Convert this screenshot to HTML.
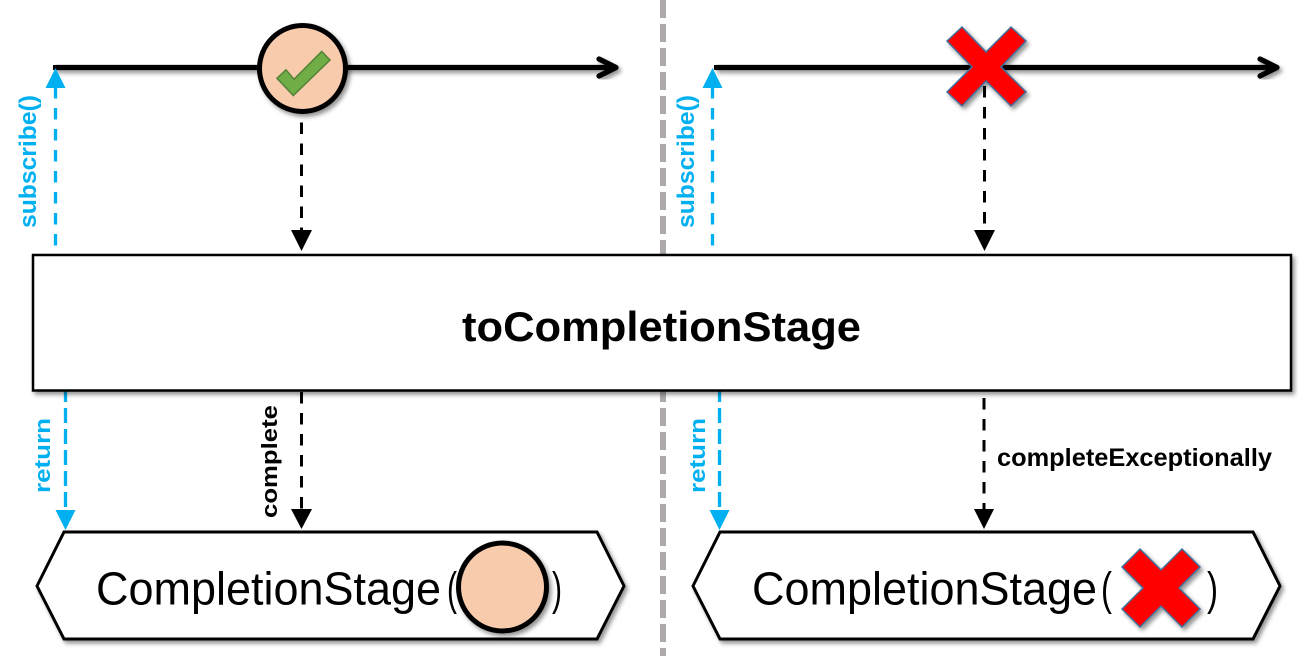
<!DOCTYPE html>
<html><head><meta charset="utf-8"><style>
html,body{margin:0;padding:0;background:#fff;width:1315px;height:659px;overflow:hidden}
svg{display:block}
text{font-family:"Liberation Sans",sans-serif}
</style></head><body>
<svg width="1315" height="659" viewBox="0 0 1315 659" xmlns="http://www.w3.org/2000/svg">
<defs><filter id="s" x="-20%" y="-20%" width="140%" height="140%"><feDropShadow dx="2.5" dy="3" stdDeviation="2.2" flood-color="#000" flood-opacity=".42"/></filter></defs>
<line x1="663" y1="0" x2="663" y2="656" stroke="#aeaaaa" stroke-width="6" stroke-dasharray="18 6"/>
<g filter="url(#s)" fill="none" stroke="#000" stroke-width="5.2" stroke-linecap="round" stroke-linejoin="round"><path d="M55.5 67.5H614M599 59L616 67.5L599 76"/></g>
<g filter="url(#s)" fill="none" stroke="#000" stroke-width="5.2" stroke-linecap="round" stroke-linejoin="round"><path d="M716.5 67.5H1275M1260 59L1277 67.5L1260 76"/></g>
<rect x="53" y="65" width="4" height="5" fill="#000"/><rect x="714" y="65" width="4" height="5" fill="#000"/>
<circle cx="302.5" cy="68.5" r="43" fill="#f7cbac" stroke="#000" stroke-width="5" filter="url(#s)"/>
<polygon points="330,60 321.7,51.5 294,79.3 286,69.8 277,78.3 293.3,95.5" fill="#70ad47" stroke="#548235" stroke-width="1.5"/>
<polygon points="962,27 986,52 1011,27 1026,41 1001,67 1026,92 1011,106 986,81 962,106 947,92 972,67 947,41" fill="#ff0000" stroke="#41719c" stroke-width="1.5" filter="url(#s)"/>
<g stroke="#00b0f0" stroke-width="3.3" stroke-dasharray="11.5 9.5" fill="none">
<line x1="55.5" y1="245.5" x2="55.5" y2="86"/><line x1="712.5" y1="245.5" x2="712.5" y2="86"/>
</g>
<g stroke="#00b0f0" stroke-width="3.3" stroke-dasharray="15 6" fill="none">
<line x1="65.5" y1="387" x2="65.5" y2="512"/><line x1="719.5" y1="387" x2="719.5" y2="512"/>
</g>
<g fill="#00b0f0">
<polygon points="55.5,68 65.5,88 45.5,88"/><polygon points="712.5,68 722.5,88 702.5,88"/>
<polygon points="65.5,530 55.5,510 75.5,510"/><polygon points="719.5,530 709.5,510 729.5,510"/>
</g>
<g stroke="#000" stroke-width="3" stroke-dasharray="11.5 9.5" fill="none">
<line x1="301.5" y1="122.5" x2="301.5" y2="232"/><line x1="984.5" y1="86" x2="984.5" y2="232"/>
<line x1="301.5" y1="392" x2="301.5" y2="510"/><line x1="984" y1="398" x2="984" y2="510"/>
</g>
<g fill="#000">
<polygon points="301.5,251 291,230 312,230"/><polygon points="984.5,251 974,230 995,230"/>
<polygon points="301.5,529 291,509 312,509"/><polygon points="984,529 974,509 994,509"/>
</g>
<rect x="33" y="255" width="1258" height="135.5" fill="#fff" stroke="#000" stroke-width="2.5" filter="url(#s)"/>
<text x="462" y="341" font-size="42" font-weight="700" textLength="399" lengthAdjust="spacingAndGlyphs">toCompletionStage</text>
<polygon points="37,586 64,532 597,532 624,586 597,639 64,639" fill="#fff" stroke="#000" stroke-width="3" filter="url(#s)"/>
<polygon points="693,586 720,532 1253,532 1280,586 1253,639 720,639" fill="#fff" stroke="#000" stroke-width="3" filter="url(#s)"/>
<text x="96" y="604.5" font-size="46" textLength="345" lengthAdjust="spacingAndGlyphs">CompletionStage</text>
<text x="447" y="604.5" font-size="46" textLength="10" lengthAdjust="spacingAndGlyphs">(</text>
<text x="552" y="604.5" font-size="46" textLength="10" lengthAdjust="spacingAndGlyphs">)</text>
<circle cx="502.5" cy="587" r="44" fill="#f7cbac" stroke="#000" stroke-width="5" filter="url(#s)"/>
<text x="752" y="604.5" font-size="46" textLength="345" lengthAdjust="spacingAndGlyphs">CompletionStage</text>
<text x="1101" y="604.5" font-size="46" textLength="11" lengthAdjust="spacingAndGlyphs">(</text>
<text x="1207" y="604.5" font-size="46" textLength="11" lengthAdjust="spacingAndGlyphs">)</text>
<polygon points="1140,549 1161,570 1182,549 1200,567 1179,588 1200,609 1182,627 1161,606 1140,627 1122,609 1143,588 1122,567" fill="#ff0000" stroke="#41719c" stroke-width="1.5" filter="url(#s)"/>
<text transform="translate(36 228) rotate(-90)" font-size="24" font-weight="700" fill="#00b0f0" textLength="133" lengthAdjust="spacingAndGlyphs">subscribe()</text>
<text transform="translate(694 228) rotate(-90)" font-size="24" font-weight="700" fill="#00b0f0" textLength="133" lengthAdjust="spacingAndGlyphs">subscribe()</text>
<text transform="translate(50 493) rotate(-90)" font-size="22" font-weight="700" fill="#00b0f0" textLength="75" lengthAdjust="spacingAndGlyphs">return</text>
<text transform="translate(705 493) rotate(-90)" font-size="22" font-weight="700" fill="#00b0f0" textLength="75" lengthAdjust="spacingAndGlyphs">return</text>
<text transform="translate(277 518) rotate(-90)" font-size="22" font-weight="700" textLength="113" lengthAdjust="spacingAndGlyphs">complete</text>
<text x="997" y="466" font-size="25" font-weight="700" textLength="275" lengthAdjust="spacingAndGlyphs">completeExceptionally</text>
</svg>
</body></html>
